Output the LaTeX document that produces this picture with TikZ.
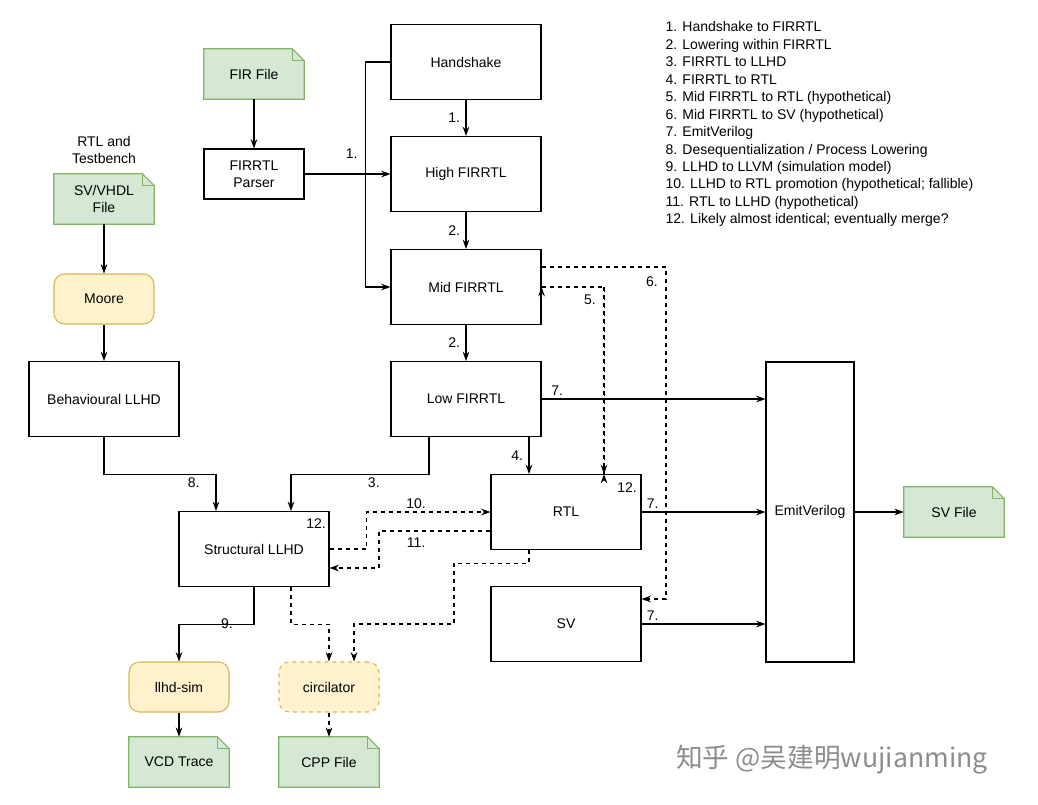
\documentclass[tikz,border=0pt]{standalone}
\usepackage{fontspec}
\setmainfont{Liberation Sans}
\newfontfamily\cjkf{Noto Sans CJK SC}
\usetikzlibrary{arrows.meta,calc}
\definecolor{gfill}{HTML}{D5E8D4}\definecolor{gdraw}{HTML}{82B366}
\definecolor{yfill}{HTML}{FFF2CC}\definecolor{ydraw}{HTML}{D6B656}
\tikzset{
 base/.style={font=\fontsize{10.5}{12.5}\selectfont,align=center,inner sep=1pt},
 box/.style={base,draw,line width=0.8pt,minimum width=112.5pt,minimum height=56.25pt},
 sbox/.style={base,draw,line width=0.8pt,minimum width=75pt,minimum height=37.5pt},
 rnd/.style={base,draw=ydraw,fill=yfill,rounded corners=8pt,line width=0.8pt,minimum width=75pt,minimum height=37.5pt},
 doc/.style={base,minimum width=75pt,minimum height=37.5pt,
   append after command={\pgfextra{\let\dn\tikzlastnode
   \draw[draw=gdraw,fill=gfill,line width=0.8pt] (\dn.south west)--(\dn.north west)--($(\dn.north east)+(-9pt,0)$)--($(\dn.north east)+(0,-9pt)$)--(\dn.south east)--cycle;
   \draw[draw=gdraw,line width=0.8pt] ($(\dn.north east)+(-9pt,0)$)--($(\dn.north east)+(-9pt,-9pt)$)--($(\dn.north east)+(0,-9pt)$);}}},
 arr/.style={-{Stealth[length=7pt,width=5pt]},line width=0.8pt},
 darr/.style={arr,dashed},
 lab/.style={base,font=\fontsize{10.5}{12.5}\selectfont}
}
\begin{document}
\begin{tikzpicture}[x=0.75pt,y=-0.75pt]
\useasboundingbox (0,0) rectangle (1038,804);
% doc nodes text drawn after shape
\node[doc] (fir) at (254,74) {};\node[base] at (fir) {FIR File};
\node[box,minimum height=37.5pt,minimum width=75pt] (parser) at (254,174) {FIRRTL\\Parser};
\node[box] (hand) at (466,62) {Handshake};
\node[box] (high) at (466,174) {High FIRRTL};
\node[box] (mid) at (466,287) {Mid FIRRTL};
\node[box] (low) at (466,399) {Low FIRRTL};
\node[box] (rtl) at (566,512) {RTL};
\node[box] (sv) at (566,624) {SV};
\node[box,minimum width=66pt,minimum height=225pt] (emit) at (810,512) {EmitVerilog};
\node[doc] (svf) at (954,512) {};\node[base] at (svf) {SV File};
\node[base] (rtltb) at (104,150) {RTL and\\Testbench};
\node[doc] (vhdl) at (104,199) {};\node[base] at (vhdl) {SV/VHDL\\File};
\node[rnd] (moore) at (104,299) {Moore};
\node[box] (beh) at (104,399) {Behavioural LLHD};
\node[box] (str) at (254,549) {Structural LLHD};
\node[rnd] (sim) at (179,687) {llhd-sim};
\node[rnd,dashed] (circ) at (329,687) {circilator};
\node[doc] (vcd) at (179,762) {};\node[base] at (vcd) {VCD Trace};
\node[doc] (cpp) at (329,762) {};\node[base] at (cpp) {CPP File};
\node[lab] at (627,488) {12.};
\node[lab] at (316,524) {12.};
% edges
\draw[arr] (fir)--(parser);
\draw[arr] (parser)--(high) node[lab,pos=0.55,above=10pt] {1.};
\draw[arr] (hand.west)--++(-25,0)|-(mid.west);
\draw[arr] (hand)--(high) node[lab,midway,left=3pt] {1.};
\draw[arr] (high)--(mid) node[lab,midway,left=3pt] {2.};
\draw[arr] (mid)--(low) node[lab,midway,left=3pt] {2.};
\draw[arr] (low.east)--(emit.west |- low.east) node[lab,pos=0.07,above=1pt] {7.};
\draw[arr] ($(low.south)+(63,0)$)--($(rtl.north)+(-37,0)$) node[lab,midway,left=3pt] {4.};
\draw[arr] ($(low.south)+(-37,0)$)--++(0,37)-|($(str.north)+(37,0)$) node[lab,pos=0.2,below=1pt] {3.};
\draw[arr] (beh.south)--++(0,37)-|($(str.north)+(-38,0)$) node[lab,pos=0.4,below=1pt] {8.};
\draw[darr] (mid.east)--++(63,0)|-($(rtl.north)+(38,0)$) -- ($(rtl.north)+(38,0)$);
\draw[darr] (mid.east)++(0,0) ;
\draw[darr] (604,287)--($(rtl.north)+(38,0)$);
\node[lab] at (590,300) {5.};
\draw[darr] ($(mid.east)+(0,-20)$)-|(666,599)--($(sv.east)+(0,-25)$);
\node[lab] at (652,282) {6.};
\draw[arr] (rtl.east)--(emit.west |- rtl.east) node[lab,pos=0.09,above=1pt] {7.};
\draw[arr] (sv.east)--(emit.west |- sv.east) node[lab,pos=0.09,above=1pt] {7.};
\draw[arr] (emit)--(svf);
\draw[darr] (str.east)--++(37,0)|-(rtl.west) node[lab,pos=0.7,above=1pt] {10.};
\draw[darr] ($(rtl.west)+(0,19)$)-|(379,568)--($(str.east)+(0,19)$);
\node[lab] at (416,543) {11.};
\draw[arr] (str.south)--++(0,37)-|(sim.north) node[lab,pos=0.25,right=2pt] {9.};
\draw[darr] ($(str.south)+(37,0)$)--++(0,37)-|(circ.north);
\draw[darr] ($(rtl.south)+(-37,0)$)--++(0,13)-|(454,624)-|($(circ.north)+(25,0)$);
\draw[arr] (sim)--(vcd);
\draw[darr] (circ)--(cpp);
\draw[arr] (vhdl)--(moore);
\draw[arr] (moore)--(beh);
\node[base,align=left,anchor=north west,font=\fontsize{10.5}{13.1}\selectfont] (leg) at (664,20) {1. Handshake to FIRRTL\\2. Lowering within FIRRTL\\3. FIRRTL to LLHD\\4. FIRRTL to RTL\\5. Mid FIRRTL to RTL (hypothetical)\\6. Mid FIRRTL to SV (hypothetical)\\7. EmitVerilog\\8. Desequentialization / Process Lowering\\9. LLHD to LLVM (simulation model)\\10. LLHD to RTL promotion (hypothetical; fallible)\\11. RTL to LLHD (hypothetical)\\12. Likely almost identical; eventually merge?};
\node[base,text=black!45,font=\cjkf\fontsize{20}{22}\selectfont] (wm) at (832,760) {知乎 @吴建明wujianming};
\end{tikzpicture}
\end{document}
